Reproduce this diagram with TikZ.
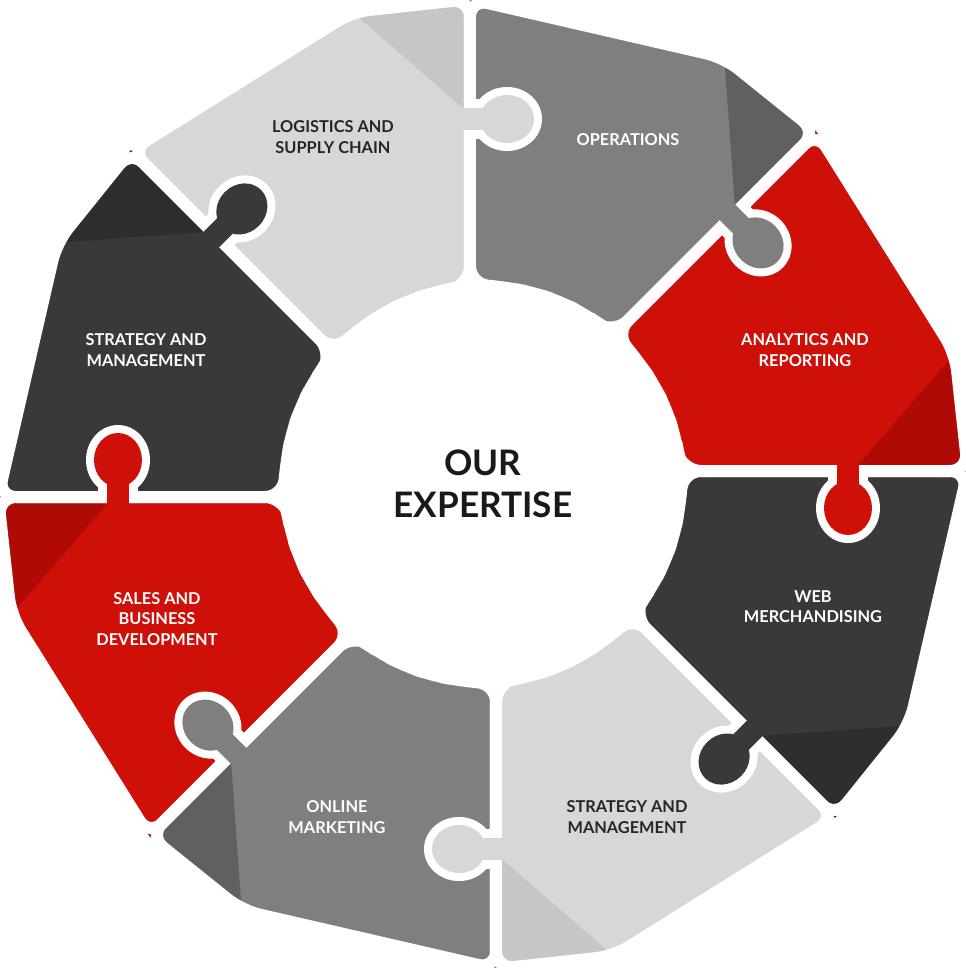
\documentclass[tikz,border=0pt]{standalone}
\usepackage{fontspec}
\setmainfont{Lato}
\usetikzlibrary{calc}
\definecolor{gA}{HTML}{7F7F7F}\definecolor{gAf}{HTML}{606060}
\definecolor{rA}{HTML}{CF1009}\definecolor{rAf}{HTML}{B00A06}
\definecolor{dA}{HTML}{393939}\definecolor{dAf}{HTML}{2E2E2E}
\definecolor{lA}{HTML}{D5D8D4}\definecolor{lAf}{HTML}{C4C7C3}
\newcommand{\sectorpath}[1]{($(#1:200)+(#1+90:13)$) -- ($(#1:485)+(#1+90:13)$) -- (#1+15.5:490) -- ($(#1+45:485)+(#1+135:13)$) -- ($(#1+45:200)+(#1+135:13)$) -- (#1+38:198) -- (#1+30:198) -- (#1+22:198) -- (#1+14:198) -- (#1+7:198) -- cycle}
\newcommand{\mypiece}[3]{%
 \fill[#2] \sectorpath{#1};
 \begin{scope}\clip \sectorpath{#1};
 \fill[#3] ($(#1:370)+(#1+90:13)$) -- (#1+15.5:490) -- (#1+15.5:600) -- (#1-5:600) -- ($(#1:370)+(#1-90:30)$) -- cycle;
 \end{scope}}
\newcommand{\mystroke}[1]{\draw[white,line width=0.24cm,rounded corners=0.36cm] \sectorpath{#1};}
\newcommand{\myknob}[2]{\begin{scope}[rotate=#1]
 \fill[white] (365,-24) ellipse (32 and 35);
 \fill[white] (345,7) rectangle (385,-24);
 \fill[#2] (365,-24) ellipse (24 and 27);
 \fill[#2] (354,22) rectangle (376,-24);
 \end{scope}}
\tikzset{lab/.style={font=\bfseries\fontsize{9.3}{11.5}\selectfont,align=center},
 wl/.style={lab,text=white}, bl/.style={lab,text=black!85}}
\begin{document}
\begin{tikzpicture}[x=0.02cm,y=0.02cm]
\useasboundingbox (-483,-484) rectangle (483,484);
\mypiece{45}{gA}{gAf}
\mypiece{0}{rA}{rAf}
\mypiece{-45}{dA}{dAf}
\mypiece{-90}{lA}{lAf}
\mypiece{-135}{gA}{gAf}
\mypiece{180}{rA}{rAf}
\mypiece{135}{dA}{dAf}
\mypiece{90}{lA}{lAf}
\foreach \a in {0,45,...,315} {\mystroke{\a}}
\myknob{45}{gA}
\myknob{0}{rA}
\myknob{-45}{dA}
\myknob{-90}{lA}
\myknob{-135}{gA}
\myknob{180}{rA}
\myknob{135}{dA}
\myknob{90}{lA}
\node[bl] (t1) at (-150,347) {LOGISTICS AND\\SUPPLY CHAIN};
\node[wl] (t2) at (145,344) {OPERATIONS};
\node[wl] (t3) at (322,134) {ANALYTICS AND\\REPORTING};
\node[wl] (t4) at (330,-123) {WEB\\MERCHANDISING};
\node[bl] (t5) at (144,-333) {STRATEGY AND\\MANAGEMENT};
\node[wl] (t6) at (-146,-333) {ONLINE\\MARKETING};
\node[wl] (t7) at (-326,-135) {SALES AND\\BUSINESS\\DEVELOPMENT};
\node[wl] (t8) at (-337,134) {STRATEGY AND\\MANAGEMENT};
\node[font=\bfseries\fontsize{20}{24}\selectfont,align=center,text=black!90] (c) at (0,0) {OUR\\EXPERTISE};
\end{tikzpicture}
\end{document}
